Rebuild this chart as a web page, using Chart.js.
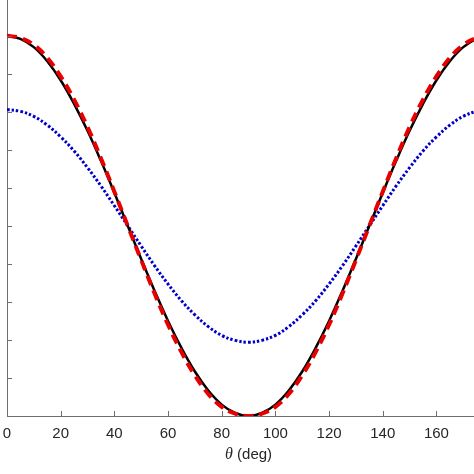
<!DOCTYPE html>
<html>
<head>
<meta charset="utf-8">
<script src="https://cdn.jsdelivr.net/npm/chart.js@4"></script>
<style>
html,body{margin:0;padding:0;background:#fff;}
#wrap{width:474px;height:474px;position:relative;}
</style>
</head>
<body>
<div id="wrap"><canvas id="c" width="474" height="474"></canvas></div>
<script>
const angles = [0,5,10,15,20,25,30,35,40,45,50,55,60,65,70,75,80,85,90,95,100,105,110,115,120,125,130,135,140,145,150,155,160,165,170,175,180];
const blackSeries = [1,0.992,0.970,0.933,0.883,0.821,0.750,0.671,0.587,0.500,0.413,0.329,0.250,0.179,0.117,0.067,0.030,0.008,0,0.008,0.030,0.067,0.117,0.179,0.250,0.329,0.413,0.500,0.587,0.671,0.750,0.821,0.883,0.933,0.970,0.992,1];
const redSeries = [1,0.994,0.976,0.942,0.893,0.832,0.760,0.678,0.590,0.500,0.410,0.322,0.240,0.168,0.107,0.058,0.024,0.006,0,0.006,0.024,0.058,0.107,0.168,0.240,0.322,0.410,0.500,0.590,0.678,0.760,0.832,0.893,0.942,0.976,0.994,1];
const blueSeries = [0.806,0.801,0.788,0.765,0.734,0.697,0.653,0.605,0.553,0.500,0.447,0.395,0.347,0.303,0.266,0.235,0.212,0.199,0.194,0.199,0.212,0.235,0.266,0.303,0.347,0.395,0.447,0.500,0.553,0.605,0.653,0.697,0.734,0.765,0.788,0.801,0.806];
const xTicks = [0,20,40,60,80,100,120,140,160];
const yTicks = [0,0.1,0.2,0.3,0.4,0.5,0.6,0.7,0.8,0.9,1.0];
const xTitleSymbol = 'θ';
const xTitleRest = ' (deg)';

function pts(ys){ return angles.map((a,i)=>({x:a,y:ys[i]})); }

const axisColor = '#6e6e6e';

const tickPlugin = {
  id:'inwardTicks',
  afterDatasetsDraw(chart){
    const ctx = chart.ctx, a = chart.chartArea;
    const xs = chart.scales.x, ys = chart.scales.y;
    ctx.save();
    ctx.strokeStyle = axisColor;
    ctx.lineWidth = 1;
    ctx.beginPath();
    xs.ticks.forEach(t=>{
      const px = Math.round(xs.getPixelForValue(t.value))+0.5;
      ctx.moveTo(px, a.bottom); ctx.lineTo(px, a.bottom-5);
    });
    ys.ticks.forEach(t=>{
      const py = Math.round(ys.getPixelForValue(t.value))+0.5;
      ctx.moveTo(a.left, py); ctx.lineTo(a.left+5, py);
    });
    ctx.stroke();
    const cx = xs.getPixelForValue(90);
    const cy = 455;
    ctx.fillStyle = '#262626';
    ctx.textBaseline = 'middle';
    const f1 = 'italic 16px "Liberation Serif", serif';
    const f2 = '15px "Liberation Sans", Arial, sans-serif';
    ctx.font = f1; const w1 = ctx.measureText(xTitleSymbol).width;
    ctx.font = f2; const w2 = ctx.measureText(xTitleRest).width;
    let x0 = cx - (w1+w2)/2;
    ctx.textAlign = 'left';
    ctx.font = f1; ctx.fillText(xTitleSymbol, x0, cy);
    ctx.font = f2; ctx.fillText(xTitleRest, x0+w1, cy);
    ctx.restore();
  }
};

new Chart(document.getElementById('c'), {
  type:'line',
  data:{
    datasets:[
      {data:pts(redSeries), borderColor:'#e60000', borderWidth:4, borderDash:[10,6], pointRadius:0, tension:0.4, fill:false},
      {data:pts(blackSeries), borderColor:'#000000', borderWidth:2.5, pointRadius:0, tension:0.4, fill:false},
      {data:pts(blueSeries), borderColor:'#0000c8', borderWidth:3, borderDash:[2.5,2], pointRadius:0, tension:0.4, fill:false}
    ]
  },
  options:{
    responsive:false,
    animation:false,
    events:[],
    layout:{padding:0},
    plugins:{legend:{display:false}, tooltip:{enabled:false}, title:{display:false}},
    scales:{
      x:{
        type:'linear', min:0, max:174,
        afterBuildTicks(s){ s.ticks = xTicks.map(v=>({value:v})); },
        afterFit(s){ s.height = 58; s.paddingLeft = 0; s.paddingRight = 0; },
        ticks:{font:{family:'"Liberation Sans", Arial, sans-serif', size:15}, color:'#262626', padding:9, maxRotation:0, autoSkip:false},
        grid:{drawOnChartArea:false, drawTicks:false},
        border:{display:true, color:axisColor, width:1}
      },
      y:{
        type:'linear', min:0, max:1.094,
        afterBuildTicks(s){ s.ticks = yTicks.map(v=>({value:v})); },
        afterFit(s){ s.width = 7; s.paddingTop = 0; s.paddingBottom = 0; },
        ticks:{display:false},
        grid:{drawOnChartArea:false, drawTicks:false},
        border:{display:true, color:axisColor, width:1}
      }
    }
  },
  plugins:[tickPlugin]
});
</script>
</body>
</html>
